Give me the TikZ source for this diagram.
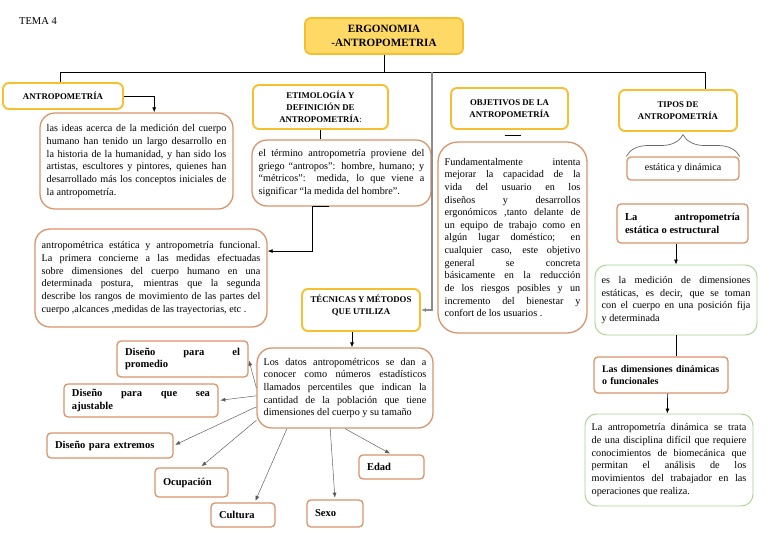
\documentclass[tikz,border=0pt]{standalone}
\usepackage{fontspec}
\setmainfont{Liberation Serif}
\usetikzlibrary{arrows.meta,decorations.pathreplacing}
\definecolor{gold}{HTML}{F7BE2E}
\definecolor{goldfill}{HTML}{FFD966}
\definecolor{clay}{HTML}{D9946A}
\definecolor{sage}{HTML}{A9D18E}
\newcommand{\bodyfont}{\fontsize{8.7}{10.8}\selectfont}
\tolerance=10000
\hbadness=10000
\hyphenpenalty=10000
\tikzset{
  head/.style={draw=gold, line width=1.6pt, rounded corners=1.8mm, fill=white,
    align=center, font=\bfseries\fontsize{7.5}{10}\selectfont, inner sep=2pt},
  maintitle/.style={head, fill=goldfill, font=\bfseries\fontsize{9.5}{12}\selectfont},
  note/.style={draw=clay, line width=1.1pt, rounded corners=4.5mm, fill=white,
    align=justify, font=\bodyfont, inner xsep=2mm, inner ysep=2pt},
  greennote/.style={note, draw=sage, line width=0.8pt, rounded corners=3.5mm},
  leaf/.style={draw=clay, line width=1.1pt, rounded corners=1.2mm, fill=white,
    align=justify, font=\bfseries\fontsize{9}{11}\selectfont, inner xsep=2.4mm, inner ysep=2pt},
  link/.style={draw=black, line width=0.7pt},
  flow/.style={-{Latex[length=1.5mm,width=1.2mm]}, line width=0.6pt, draw=black},
  spread/.style={flow, draw=black!65, line width=0.4pt, shorten >=0.5mm},
  trunk/.style={flow, draw=black!45, line width=1.4pt},
  typebrace/.style={decorate, decoration={brace, amplitude=6.5mm}, draw=black!60, line width=0.6pt}
}

\begin{document}
\begin{tikzpicture}[x=0.3mm, y=-0.3mm]
  \useasboundingbox (0,0) rectangle (768,543);
  \node[font=\fontsize{9}{11}\selectfont] (tema) at (38,21) {TEMA 4};

  \node[maintitle, minimum width=47.4mm, minimum height=10.8mm] (ergo) at (384,36)
    {ERGONOMIA\\-ANTROPOMETRIA};
  \node[head, minimum width=36mm, minimum height=7.8mm] (antro) at (63,96) {ANTROPOMETRÍA};
  \node[head, minimum width=40.5mm, minimum height=13.2mm] (etim) at (320.5,107)
    {ETIMOLOGÍA Y\\DEFINICIÓN DE\\ANTROPOMETRÍA{\mdseries:}};
  \node[head, minimum width=35.1mm, minimum height=12.3mm] (objt) at (509.5,108.5)
    {OBJETIVOS DE LA\\ANTROPOMETRÍA};
  \node[head, minimum width=35.4mm, minimum height=12.3mm] (tipos) at (678,110.5)
    {TIPOS DE\\ANTROPOMETRÍA};
  \node[head, minimum width=35.4mm, minimum height=12.6mm, text depth=3.2mm] (tecn) at (361,310)
    {TÉCNICAS Y MÉTODOS\\QUE UTILIZA};

  \node[note, text width=53.9mm, minimum height=28.8mm] (txtA) at (136.5,161)
    {las ideas acerca de la medición del cuerpo\linebreak humano han tenido un largo desarrollo en\linebreak
     la historia de la humanidad, y han sido los\linebreak artistas, escultores y pintores, quienes han\linebreak
     desarrollado más los conceptos iniciales de\linebreak la antropometría.};
  \node[note, text width=49.7mm, minimum height=19.8mm] (txtB) at (341.5,173)
    {el término antropometría proviene del\linebreak griego “antropos”: hombre, humano; y\linebreak
     “métricos”: medida, lo que viene a\linebreak significar “la medida del hombre”.};
  \node[note, text width=65.6mm, minimum height=29.4mm] (txtC) at (151,278)
    {antropométrica estática y antropometría funcional.\linebreak La primera concierne a las medidas efectuadas\linebreak
     sobre dimensiones del cuerpo humano en una\linebreak determinada postura, mientras que la segunda\linebreak
     describe los rangos de movimiento de las partes del\linebreak cuerpo ,alcances ,medidas de las trayectorias, etc .};
  \node[note, rounded corners=6mm, text width=40.7mm, minimum height=57.3mm] (txtD) at (512.5,237.5)
    {Fundamentalmente intenta\linebreak mejorar la capacidad de la\linebreak vida del usuario en los\linebreak
     diseños y desarrollos\linebreak ergonómicos ,tanto delante de\linebreak un equipo de trabajo como en\linebreak
     algún lugar doméstico; en\linebreak cualquier caso, este objetivo\linebreak general se concreta\linebreak
     básicamente en la reducción\linebreak de los riesgos posibles y un\linebreak incremento del bienestar y\linebreak
     confort de los usuarios .};
  \node[note, text width=48.8mm, minimum height=24mm] (datos) at (345,388)
    {Los datos antropométricos se dan a\linebreak conocer como números estadísticos\linebreak
     llamados percentiles que indican la\linebreak cantidad de la población que tiene\linebreak
     dimensiones del cuerpo y su tamaño};

  \node[leaf, font=\fontsize{8.5}{10}\selectfont, align=center, minimum width=33.6mm, minimum height=6.9mm]
    (estdin) at (683,168.5) {estática y dinámica};
  \node[leaf, text width=34.5mm, minimum height=11.7mm] (estat) at (682.5,223.5)
    {La antropometría\linebreak estática o estructural};
  \node[greennote, text width=44.6mm, minimum height=21mm] (txtE) at (676,300)
    {es la medición de dimensiones\linebreak estáticas, es decir, que se toman\linebreak
     con el cuerpo en una posición fija\linebreak y determinada};
  \node[leaf, align=left, font=\bfseries\fontsize{8.5}{10.5}\selectfont, text width=35.4mm, minimum height=10.8mm]
    (dinam) at (661,375) {Las dimensiones dinámicas\\o funcionales};
  \node[greennote, text width=46.4mm, minimum height=27.6mm] (txtF) at (669,460)
    {La antropometría dinámica se trata\linebreak de una disciplina difícil que requiere\linebreak
     conocimientos de biomecánica que\linebreak permitan el análisis de los\linebreak
     movimientos del trabajador en las\linebreak operaciones que realiza.};

  \node[leaf, text width=34.5mm, minimum height=10.8mm] (prom) at (182.5,359) {Diseño para el\linebreak promedio};
  \node[leaf, text width=41.4mm, minimum height=9.9mm] (ajus) at (141,400.5) {Diseño para que sea\linebreak ajustable};
  \node[leaf, align=left, text width=33mm, minimum height=7.5mm] (extr) at (110,445.5) {Diseño para extremos};
  \node[leaf, align=left, text width=17.1mm, minimum height=8.7mm] (ocup) at (191.5,482.5) {Ocupación};
  \node[leaf, align=left, text width=14.4mm, minimum height=7.2mm] (cult) at (243,515) {Cultura};
  \node[leaf, align=left, text width=12mm, minimum height=8.1mm] (sexo) at (335,513.5) {Sexo};
  \node[leaf, align=left, text width=14.7mm, minimum height=7.2mm] (edad) at (391.5,467) {Edad};

  \coordinate (busL) at (60,72);
  \coordinate (busR) at (705,72);
  \coordinate (trunk) at (432,72);
  \coordinate (bendB) at (txtC.13 -| 312,0);

  \draw[link] (ergo.south) -- (ergo.south |- busL);
  \draw[link] (antro.north -| busL) -- (busL) -- (busR) -- (tipos.north -| busR);
  \draw[trunk] (trunk) |- (tecn.east);
  \draw[flow] (antro.east) -| (txtA.70);
  \draw[link] (etim.south) -- (etim.south |- txtB.north);
  \draw[flow] (txtB.250) -| (bendB) -- (txtC.13);
  \draw[link] ([shift={(-5,5)}]objt.south) -- ++(16,0);
  \draw[typebrace] (estdin.north west) -- (estdin.north east);
  \draw[flow] (estat.south -| txtE.north) -- (txtE.north);
  \draw[link] (txtE.south) -- (txtE.south |- dinam.north);
  \draw[flow] ([xshift=2mm]dinam.south) -- ([xshift=-0.5mm]txtF.north);
  \draw[flow] ([xshift=-2.7mm]tecn.south) -- ([xshift=-2.7mm]tecn.south |- datos.north);

  \foreach \a/\t in {180/prom.east, 185/ajus.east, 192/extr.east, 200/ocup.60,
                     215/cult.47, 250/sexo.north, 270/edad.north}
    \draw[spread] (datos.\a) -- (\t);
\end{tikzpicture}
\end{document}
